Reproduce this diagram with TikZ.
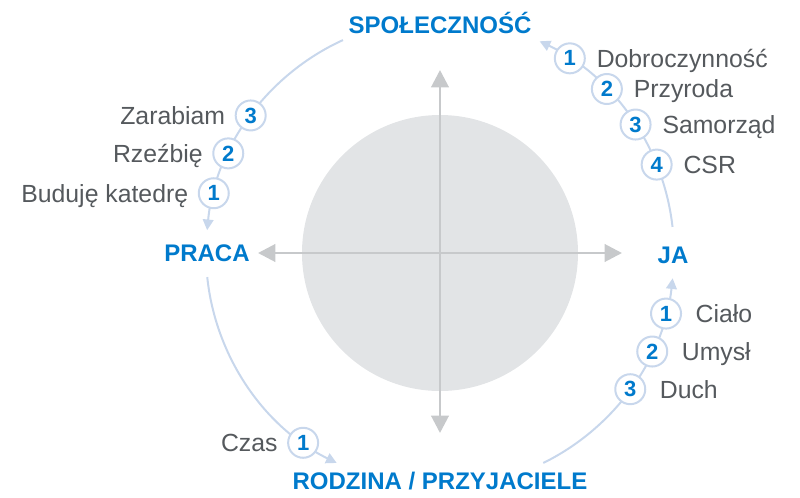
\documentclass[tikz,border=0pt]{standalone}
\usepackage{fontspec}
\setmainfont{Liberation Sans}
\usetikzlibrary{positioning, arrows.meta}

\definecolor{titleblue}{RGB}{0,122,204}
\definecolor{textgrey}{RGB}{85,89,93}
\definecolor{ringblue}{RGB}{200,215,236}
\definecolor{axisgrey}{RGB}{199,201,203}
\definecolor{discgrey}{RGB}{226,228,230}

\begin{document}
\begin{tikzpicture}[
		x=0.75pt, y=0.75pt, % one unit = one pixel
		>={Triangle[length=8pt, width=8pt]}, % Arrow style
		areaname/.style={font=\fontsize{18}{20}\selectfont\bfseries, text=titleblue, text height=12.9pt, text depth=0pt},
		badge/.style={circle, draw=ringblue, line width=1.5pt, fill=white, minimum size=22.5pt, inner sep=0pt, font=\fontsize{16.5}{17}\selectfont\bfseries, text=titleblue},
		entry/.style={font=\fontsize{18.6}{20}\selectfont, text=textgrey, inner sep=2pt, text height=13.3pt, text depth=0pt},
		ringarc/.style={->, draw=ringblue, line width=1.5pt},
		axis/.style={{Triangle[length=13pt, width=13pt]}-{Triangle[length=13pt, width=13pt]}, draw=axisgrey, line width=2.2pt}
	]
	\useasboundingbox (-440,-244) rectangle (360,253);

	% Grey disc in the middle
	\fill[discgrey] (0,0) circle[radius=138];

	% Axis arrows
	\coordinate (axisW) at (-182,0);
	\coordinate (axisE) at (182,0);
	\coordinate (axisN) at (0,183);
	\coordinate (axisS) at (0,-180);
	\draw[axis] (axisW) -- (axisE);
	\draw[axis] (axisS) -- (axisN);

	% Area names
	\node[areaname] (spol) at (0,228) {SPOŁECZNOŚĆ};
	\node[areaname] (praca) at (-233,0) {PRACA};
	\node[areaname] (ja) at (233,-2) {JA};
	\node[areaname] (rodzina) at (0,-228) {RODZINA / PRZYJACIELE};

	% Arcs between the areas
	\coordinate (spolW) at (114.5:234);
	\coordinate (jaN) at (6.4:234);
	\coordinate (rodzinaE) at (-63.8:234);
	\coordinate (pracaS) at (185.9:234);
	\draw[ringarc] (spolW) arc[start angle=114.5, end angle=174.4, radius=234];
	\draw[ringarc] (jaN) arc[start angle=6.4, end angle=64.8, radius=234];
	\draw[ringarc] (rodzinaE) arc[start angle=-63.8, end angle=-6.2, radius=234];
	\draw[ringarc] (pracaS) arc[start angle=185.9, end angle=243.8, radius=234];

	% Praca steps
	\node[badge] (p3) at (144:234) {3};
	\node[badge] (p2) at (154.8:234) {2};
	\node[badge] (p1) at (165.2:234) {1};
	\node[entry, left=5pt of p3] (zarabiam) {Zarabiam};
	\node[entry, left=5pt of p2] (rzezbie) {Rzeźbię};
	\node[entry, left=5pt of p1] (katedra) {Buduję katedrę};

	% Spoleczność steps
	\node[badge] (s1) at (56.3:234) {1};
	\node[badge] (s2) at (44.5:234) {2};
	\node[badge] (s3) at (33.3:234) {3};
	\node[badge] (s4) at (22.2:234) {4};
	\node[entry, right=6pt of s1] (dobro) {Dobroczynność};
	\node[entry, right=6pt of s2] (przyroda) {Przyroda};
	\node[entry, right=6pt of s3] (samorzad) {Samorząd};
	\node[entry, right=6pt of s4] (csr) {CSR};

	% Ja steps
	\node[badge] (j1) at (-15:234) {1};
	\node[badge] (j2) at (-24.9:234) {2};
	\node[badge] (j3) at (-35.6:234) {3};
	\node[entry, right=8pt of j1] (cialo) {Ciało};
	\node[entry, right=8pt of j2] (umysl) {Umysł};
	\node[entry, right=8pt of j3] (duch) {Duch};

	% Rodzina steps
	\node[badge] (r1) at (234.2:234) {1};
	\node[entry, left=5pt of r1] (czas) {Czas};

\end{tikzpicture}
\end{document}
